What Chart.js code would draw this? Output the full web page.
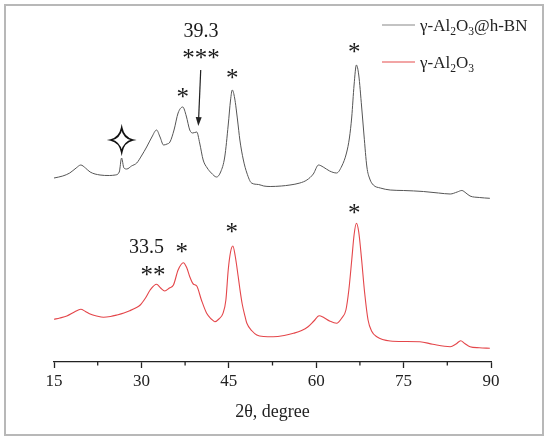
<!DOCTYPE html>
<html>
<head>
<meta charset="utf-8">
<script src="https://cdn.jsdelivr.net/npm/chart.js@4.4.1/dist/chart.umd.min.js"></script>
<style>
    body { margin: 0; background: #fff; }
    #box { position: relative; width: 550px; height: 440px; }
</style>
</head>
<body>
<div id="box"><canvas id="chartXrd"></canvas></div>
<script>
// 2θ positions and intensities (arbitrary units, curves already offset)
const angleBN = [15.0, 16.5, 17.7, 18.8, 19.6, 20.4, 21.2, 22.9, 24.5, 25.5, 26.2, 26.6, 27.0, 27.5, 28.3, 29.2,
    30.0, 30.9, 31.8, 32.6, 33.2, 33.8, 34.4, 34.9, 35.6, 36.3, 37.1, 37.7, 38.3, 38.8, 39.5, 40.0, 40.6, 41.3,
    42.0, 42.9, 43.6, 44.3, 44.9, 45.3, 45.6, 46.0, 46.5, 46.9, 47.5, 48.1, 48.9, 50.1, 51.0, 52.1, 54.0, 55.5,
    57.2, 58.4, 59.5, 60.4, 61.2, 62.3, 63.5, 64.4, 65.2, 65.7, 66.1, 66.5, 66.9, 67.3, 67.8, 68.2, 68.7, 69.2,
    69.8, 71.0, 72.7, 75.0, 78.4, 81.0, 83.0, 84.2, 85.0, 85.7, 86.4, 88.0, 89.8];
const intensityBN = [184, 186, 189, 194, 197, 194, 190, 187, 186.5, 187, 190, 204, 194, 193, 196, 199,
    206, 215, 225, 232, 225, 217, 218, 220, 232, 249, 255, 246, 232, 229, 230, 219, 202, 194,
    189, 185, 190, 205, 237, 262, 272, 264, 242, 222, 202, 189, 179, 177.5, 176, 175.5, 176, 177,
    179, 182, 188, 197, 195, 191, 189, 196, 209, 224, 245, 277, 297, 287, 255, 227, 195, 183,
    177, 174, 172, 171.5, 170.5, 169, 168, 170, 171.5, 169, 166, 164.5, 163.7];

const angleAl = [15.0, 16.0, 17.2, 18.5, 19.6, 20.4, 21.2, 22.3, 23.5, 24.7, 25.8, 27.0, 28.0, 29.0, 29.8, 30.7,
    31.5, 32.6, 33.3, 34.0, 34.8, 35.5, 36.3, 37.2, 37.8, 38.3, 38.9, 39.5, 40.3, 41.2, 42.0, 42.6, 43.3, 44.0,
    44.5, 44.9, 45.3, 45.7, 46.1, 46.6, 46.9, 47.3, 47.8, 48.1, 49.0, 49.8, 51.0, 52.6, 54.5, 56.1, 57.5, 58.6,
    59.6, 60.5, 61.3, 62.3, 63.5, 64.4, 65.1, 65.6, 66.1, 66.5, 66.9, 67.3, 67.8, 68.3, 68.9, 69.5, 70.4, 72.7,
    75.0, 77.8, 80.0, 83.0, 84.0, 84.8, 85.5, 86.4, 88.0, 89.8];
const intensityAl = [42.7, 44, 46, 50, 52.7, 50.5, 48, 46, 44.7, 45.5, 47, 49, 51.3, 54, 57, 64,
    72, 77.7, 74, 71, 74, 77, 92, 99.3, 94, 85.3, 78, 76, 62, 48.7, 43, 40.3, 43, 48.7,
    62, 92, 110, 116, 106, 86, 73, 58, 45.3, 38.7, 31, 27, 25.5, 25.3, 26.5, 28.7, 31.5, 35.3,
    41, 46.3, 44.5, 41, 38.7, 44, 52, 72, 102, 127, 138.7, 130, 102, 70, 42, 31, 25.3, 21,
    20.5, 20.3, 17.7, 15.3, 18, 21.3, 18.5, 15.3, 14.2, 13.7];

const majorTicks = [15, 30, 45, 60, 75, 90];
const minorTicks = [22.5, 37.5, 52.5, 67.5, 82.5];

// peak marks: [text, 2θ, intensity]
const marks = [
    ['39.3', 40.23, 330], ['***', 40.23, 307],
    ['*', 37.09, 268], ['*', 45.6, 287], ['*', 66.54, 313],
    ['33.5', 30.87, 114], ['**', 31.99, 90],
    ['*', 36.91, 113], ['*', 45.5, 133], ['*', 66.54, 152]
];
const arrow39 = [[40.18, 292], [39.77, 236]];
const hbnStar = [26.62, 222];

const serif = '"Liberation Serif", "Times New Roman", serif';
const subs = '₀₁₂₃₄₅₆₇₈₉';

function drawRich(ctx, text, x, y, size) {
    // draws text with subscript digits, baseline at y
    let cx = x;
    for (const ch of text) {
        const i = subs.indexOf(ch);
        if (i >= 0) {
            ctx.font = (size * 0.68) + 'px ' + serif;
            ctx.fillText(String(i), cx, y + size * 0.22);
            cx += ctx.measureText(String(i)).width;
        } else {
            ctx.font = size + 'px ' + serif;
            ctx.fillText(ch, cx, y);
            cx += ctx.measureText(ch).width;
        }
    }
}

const extras = {
    id: 'extras',
    afterDraw(chart) {
        const ctx = chart.ctx;
        const xs = chart.scales.x, ys = chart.scales.y;
        const area = chart.chartArea;
        ctx.save();

        // minor ticks
        ctx.strokeStyle = '#222';
        ctx.lineWidth = 1.3;
        minorTicks.forEach(v => {
            const px = xs.getPixelForValue(v);
            ctx.beginPath();
            ctx.moveTo(px, area.bottom);
            ctx.lineTo(px, area.bottom + 3.5);
            ctx.stroke();
        });

        // peak labels
        ctx.fillStyle = '#1a1a1a';
        ctx.textAlign = 'center';
        ctx.textBaseline = 'middle';
        marks.forEach(m => {
            const isStar = m[0].startsWith('*');
            ctx.font = (isStar ? 25 : 20) + 'px ' + serif;
            const dy = isStar ? 4 : 0;
            ctx.fillText(m[0], xs.getPixelForValue(m[1]), ys.getPixelForValue(m[2]) + dy);
        });

        // arrow to 39.3 shoulder
        const ax1 = xs.getPixelForValue(arrow39[0][0]), ay1 = ys.getPixelForValue(arrow39[0][1]);
        const ax2 = xs.getPixelForValue(arrow39[1][0]), ay2 = ys.getPixelForValue(arrow39[1][1]);
        const ang = Math.atan2(ay2 - ay1, ax2 - ax1);
        ctx.strokeStyle = '#222';
        ctx.lineWidth = 1.2;
        ctx.beginPath();
        ctx.moveTo(ax1, ay1);
        ctx.lineTo(ax2 - 6 * Math.cos(ang), ay2 - 6 * Math.sin(ang));
        ctx.stroke();
        ctx.beginPath();
        ctx.moveTo(ax2, ay2);
        ctx.lineTo(ax2 - 9 * Math.cos(ang) + 3 * Math.sin(ang), ay2 - 9 * Math.sin(ang) - 3 * Math.cos(ang));
        ctx.lineTo(ax2 - 9 * Math.cos(ang) - 3 * Math.sin(ang), ay2 - 9 * Math.sin(ang) + 3 * Math.cos(ang));
        ctx.closePath();
        ctx.fillStyle = '#222';
        ctx.fill();

        // four-pointed star over h-BN (002) reflection
        const sx = xs.getPixelForValue(hbnStar[0]), sy = ys.getPixelForValue(hbnStar[1]);
        const rx = 11, ry = 12, c = 2;
        ctx.beginPath();
        ctx.moveTo(sx, sy - ry);
        ctx.quadraticCurveTo(sx + c, sy - c, sx + rx, sy);
        ctx.quadraticCurveTo(sx + c, sy + c, sx, sy + ry);
        ctx.quadraticCurveTo(sx - c, sy + c, sx - rx, sy);
        ctx.quadraticCurveTo(sx - c, sy - c, sx, sy - ry);
        ctx.closePath();
        ctx.fillStyle = '#fff';
        ctx.fill();
        ctx.lineWidth = 1.7;
        ctx.strokeStyle = '#111';
        ctx.stroke();

        // legend inside plot, top right
        const lx = area.right - 109;
        const legendRows = [
            { y: area.top + 5, color: '#888', width: 1.2 },
            { y: area.top + 42, color: '#f2a5a5', width: 2 }
        ];
        ctx.textAlign = 'left';
        ctx.textBaseline = 'alphabetic';
        chart.data.datasets.forEach((ds, i) => {
            const row = legendRows[i];
            ctx.strokeStyle = row.color;
            ctx.lineWidth = row.width;
            ctx.beginPath();
            ctx.moveTo(lx, row.y);
            ctx.lineTo(lx + 33, row.y);
            ctx.stroke();
            ctx.fillStyle = '#222';
            drawRich(ctx, ds.label, lx + 38, row.y + 6, 17);
        });

        // outer frame
        ctx.strokeStyle = '#b8b8b8';
        ctx.lineWidth = 2;
        ctx.strokeRect(5, 5, 538, 430);
        ctx.restore();
    }
};

const configXrd = {
    type: 'line',
    data: {
        datasets: [
            {
                label: 'γ-Al₂O₃@h-BN',
                data: angleBN.map((a, i) => ({ x: a, y: intensityBN[i] })),
                borderColor: '#555',
                borderWidth: 1,
                pointRadius: 0,
                cubicInterpolationMode: 'monotone'
            },
            {
                label: 'γ-Al₂O₃',
                data: angleAl.map((a, i) => ({ x: a, y: intensityAl[i] })),
                borderColor: '#e4464a',
                borderWidth: 1.1,
                pointRadius: 0,
                cubicInterpolationMode: 'monotone'
            }
        ]
    },
    options: {
        responsive: true,
        maintainAspectRatio: false,
        animation: false,
        layout: {
            padding: { left: 54, right: 59, top: 20, bottom: 8 }
        },
        plugins: {
            legend: { display: false },
            tooltip: { enabled: false }
        },
        scales: {
            x: {
                type: 'linear',
                min: 15,
                max: 90,
                afterBuildTicks: (scale) => { scale.ticks = majorTicks.map(v => ({ value: v })); },
                afterFit: (scale) => { scale.height = 70; },
                ticks: {
                    color: '#222',
                    font: { family: serif, size: 17 },
                    padding: 3,
                    maxRotation: 0
                },
                grid: {
                    drawOnChartArea: false,
                    tickLength: 6,
                    tickColor: '#222',
                    tickWidth: 1.3
                },
                border: { display: true, color: '#222', width: 1.3 },
                title: {
                    display: true,
                    text: '2θ, degree',
                    color: '#222',
                    font: { family: serif, size: 18 },
                    padding: { top: 4, bottom: 9 }
                }
            },
            y: {
                display: false,
                min: 0,
                max: 342
            }
        }
    },
    plugins: [extras]
};

let chartXrd = new Chart(document.getElementById('chartXrd'), configXrd);
</script>
</body>
</html>
